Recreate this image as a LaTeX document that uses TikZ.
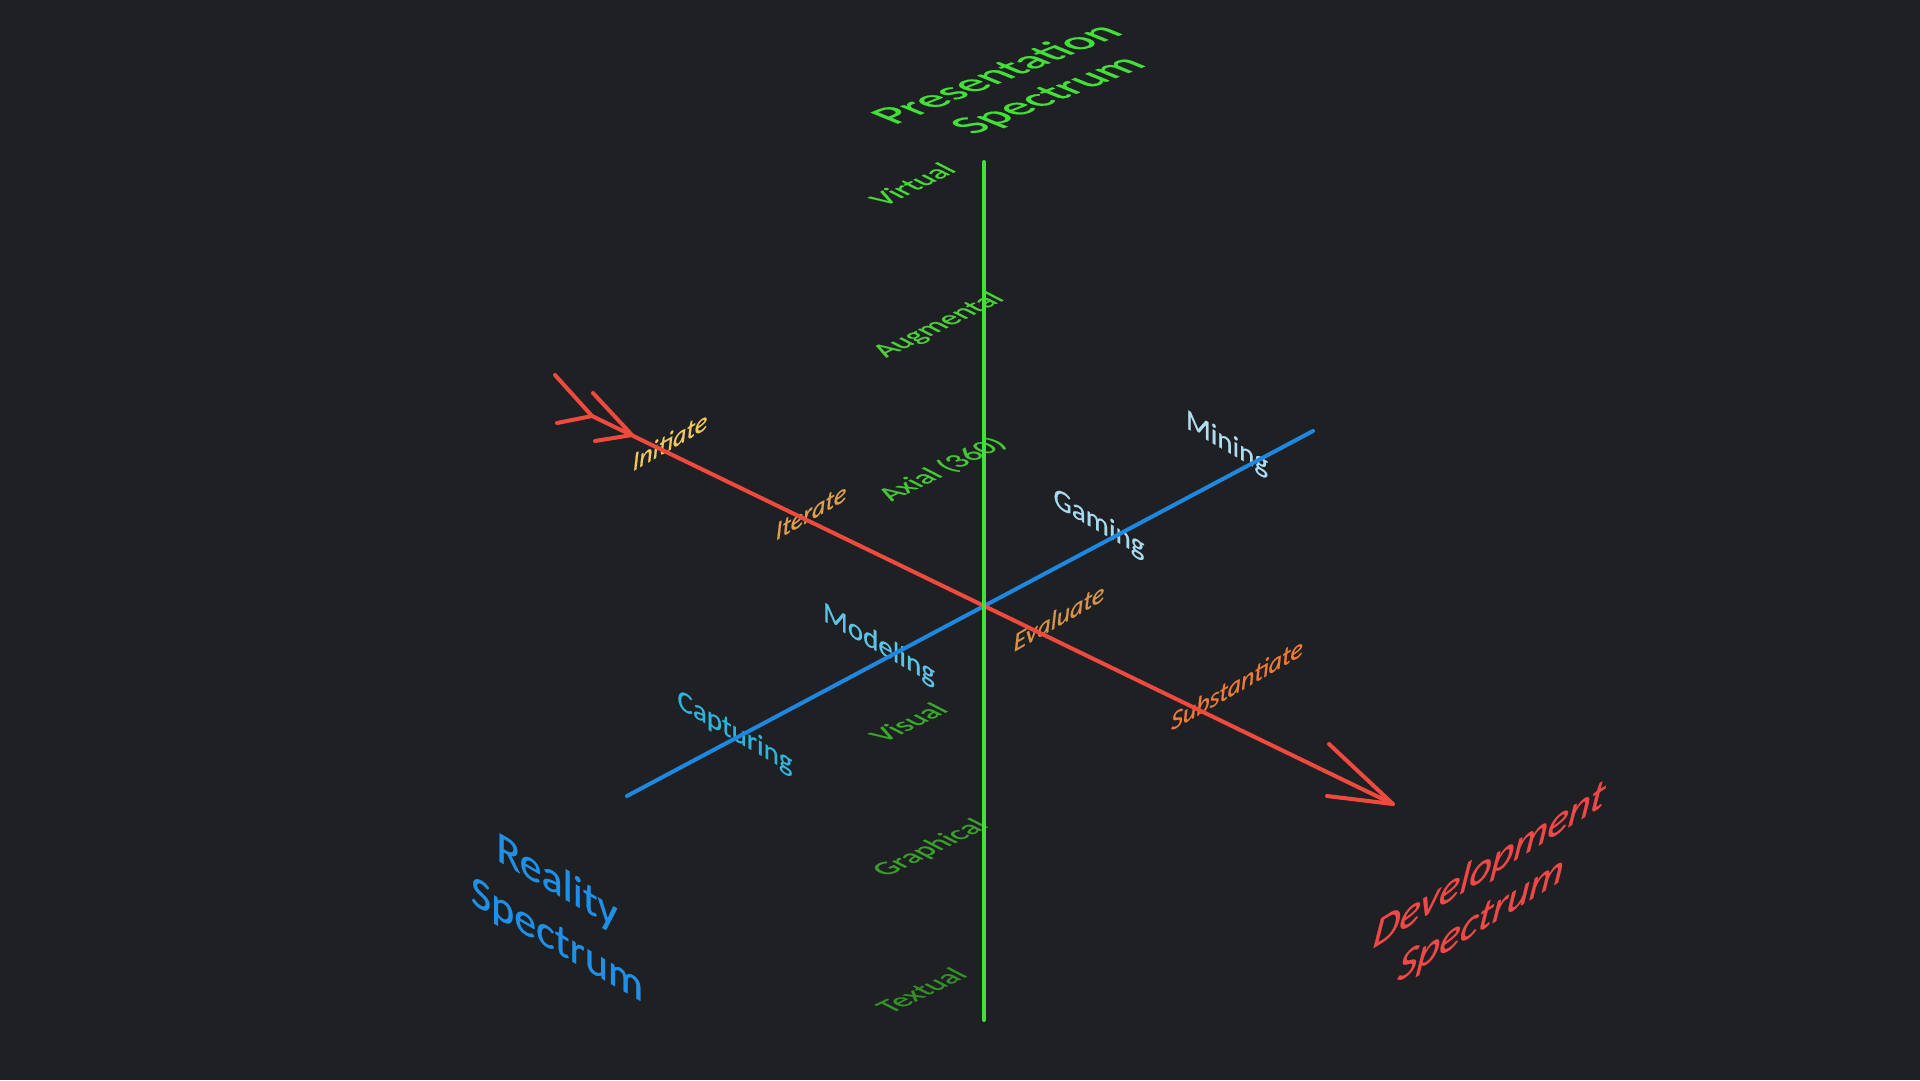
\documentclass[tikz,border=0pt]{standalone}
\usepackage{fontspec}
\setmainfont{Carlito}[FakeBold=0.6]
\definecolor{bg}{HTML}{1F2023}
\definecolor{gline}{HTML}{44E03A}
\definecolor{rline}{HTML}{F04A3F}
\definecolor{bline}{HTML}{1E88E0}
\definecolor{cVirtual}{HTML}{48D838}
\definecolor{cAugmental}{HTML}{4CCF3A}
\definecolor{cAxial}{HTML}{46C536}
\definecolor{cVisual}{HTML}{3AA82C}
\definecolor{cGraphical}{HTML}{3A9E2C}
\definecolor{cTextual}{HTML}{358F28}
\definecolor{cInitiate}{HTML}{F0C862}
\definecolor{cIterate}{HTML}{DCA050}
\definecolor{cEvaluate}{HTML}{D8924A}
\definecolor{cSubst}{HTML}{F07A35}
\definecolor{cMining}{HTML}{B0DCF0}
\definecolor{cGaming}{HTML}{A8D8EE}
\definecolor{cModeling}{HTML}{5CC4E6}
\definecolor{cCapturing}{HTML}{2FB2DC}
\definecolor{cReality}{HTML}{1E90E8}
\definecolor{cDevel}{HTML}{F04848}
\newcommand\plab[4]{\begin{scope}[shift={(#2)}]\node[#3] (#1) at (0,0) {#4};\end{scope}}
\begin{document}
\begin{tikzpicture}[x=1pt,y=-1pt,
  topplane/.style={transform shape, cm={0.9,0.44,-0.87,0.45,(0,0)}, inner sep=0pt, align=center},
  presplane/.style={transform shape, cm={0.93,0.37,-0.88,0.36,(0,0)}, inner sep=0pt, align=center},
  leftplane/.style={transform shape, cm={1,0.577,0,1,(0,0)}, inner sep=0pt, align=center},
  rightplane/.style={transform shape, cm={1,-0.577,0,1,(0,0)}, inner sep=0pt, align=center},
  develplane/.style={transform shape, cm={1,0.62,0.15,1,(0,0)}, inner sep=0pt, align=center},
  greenlab/.style={topplane, font=\fontsize{30}{36}\selectfont},
  orangelab/.style={leftplane, font=\fontsize{26}{31}\selectfont\itshape},
  bluelab/.style={rightplane, font=\fontsize{29}{35}\selectfont},
  axis/.style={line width=4pt, line cap=round, line join=round},
]
\fill[bg] (0,0) rectangle (1920,1080);
\useasboundingbox (0,0) rectangle (1920,1080);

% titles
\plab{pres}{1024,85}{presplane, text=gline, font=\fontsize{48}{58}\selectfont}{Presentation\\Spectrum}
\plab{real}{557,912}{rightplane, text=cReality, font=\fontsize{44}{58}\selectfont}{Reality\\Spectrum}
\plab{devel}{1485,893}{develplane, text=cDevel, font=\fontsize{43}{54}\selectfont\itshape}{Development\\Spectrum}

% presentation labels
\plab{virtual}{912,184}{greenlab, text=cVirtual}{Virtual}
\plab{augmental}{939,325}{greenlab, text=cAugmental}{Augmental}
\plab{axial}{942,469}{greenlab, text=cAxial}{Axial (360)}
\plab{visual}{908,722}{greenlab, text=cVisual}{Visual}
\plab{graphical}{931,848}{greenlab, text=cGraphical}{Graphical}
\plab{textual}{921,990}{greenlab, text=cTextual}{Textual}

% development labels
\plab{initiate}{670,441}{orangelab, text=cInitiate}{Initiate}
\plab{iterate}{811,512}{orangelab, text=cIterate}{Iterate}
\plab{evaluate}{1059,617}{orangelab, text=cEvaluate}{Evaluate}
\plab{subst}{1237,684}{orangelab, text=cSubst}{Substantiate}

% reality labels
\plab{mining}{1227,444}{bluelab, text=cMining}{Mining}
\plab{gaming}{1099,524}{bluelab, text=cGaming}{Gaming}
\plab{modeling}{879,645}{bluelab, text=cModeling}{Modeling}
\plab{capturing}{735,733}{bluelab, text=cCapturing}{Capturing}

% axes
\coordinate (gtop) at (984,162);
\coordinate (gbot) at (984,1020);
\coordinate (bstart) at (627,796);
\coordinate (bend) at (1313,431);
\coordinate (rtail) at (592,416);
\coordinate (chev) at (632,435);
\coordinate (rtip) at (1393,804);

\draw[axis, bline] (bstart) -- (bend);
\draw[axis, rline] (rtail) -- (rtip);
\draw[axis, rline] (rtail) ++(-37,-41) -- (rtail) -- ++(-35,7);
\draw[axis, rline] (chev) ++(-39,-42) -- (chev) -- ++(-37,6);
\draw[axis, rline] (rtip) ++(-64,-60) -- (rtip) -- ++(-66,-8);
\draw[axis, gline] (gtop) -- (gbot);
\end{tikzpicture}
\end{document}
